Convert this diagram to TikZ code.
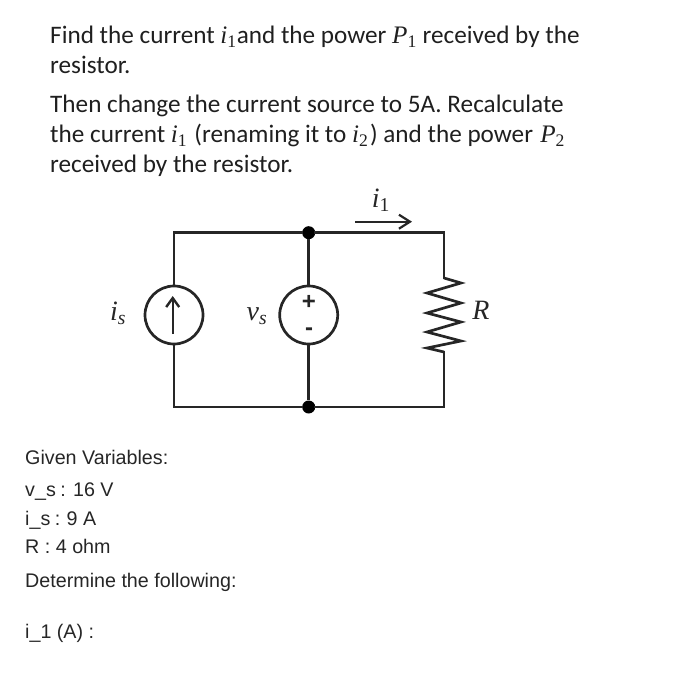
\documentclass[tikz,border=0pt]{standalone}
\usepackage{amsmath}
\usepackage{fontspec}
\setmainfont{Carlito}
\newfontfamily\givenfont{Liberation Sans}
\newfontfamily\symbfont[NFSSFamily=symbf]{Liberation Serif}
\DeclareMathAlphabet{\mathsb}{TU}{symbf}{m}{it}
\DeclareMathAlphabet{\mathsn}{TU}{symbf}{m}{n}
\newcommand{\quant}[2]{\mathsb{#1}_{\mathsn{#2}}}
\usetikzlibrary{arrows.meta,positioning}
\tikzset{
  wire/.style={line width=2.7pt,draw=black!85},
  source/.style={circle,draw=black!85,line width=2.7pt,minimum size=58pt,inner sep=0pt},
  junction/.style={circle,fill=black,minimum size=13pt,inner sep=0pt},
  question/.style={anchor=base west,inner sep=0pt,text=black!88,font=\fontsize{25.2}{30}\selectfont},
  given/.style={anchor=base west,inner sep=0pt,text=black!85,font=\givenfont\fontsize{19.7}{24}\selectfont},
  symbol/.style={inner sep=0pt,text=black!85,font=\fontsize{28}{34}\selectfont},
  polarity/.style={inner sep=0pt,text=black!85,font=\givenfont\bfseries\fontsize{24}{26}\selectfont}
}
\begin{document}
\begin{tikzpicture}[x=1pt,y=-1pt,node distance=134.7pt,on grid]
   \useasboundingbox (0,0) rectangle (699,700);
   % text above the circuit
   \node[question] (find) at (50,44) {Find the current $\quant{i}{1}$and the power $\quant{P}{1}$ received by the};
   \node[question] (res)  at (50,74) {resistor.};
   \node[question] (then) at (50,112.5) {Then change the current source to 5A. Recalculate};
   \node[question] (curr) at (50,143) {the current $\quant{i}{1}$\kern1.5pt{} (renaming it to $\quant{i}{2}$\kern1.5pt) and the power \kern1.5pt$\quant{P}{2}$};
   \node[question] (recv) at (50,172.5) {received by the resistor.};
   % sources and corners
   \node[source] (i_s) at (174,315) {};
   \node[source,right=of i_s] (v_s) {};
   \node[junction] (top) at (308.7,232.7) {};
   \node[junction] (bot) at (308.7,407) {};
   \coordinate (tl) at (174,232.7);
   \coordinate (bl) at (174,407);
   \coordinate (tr) at (444,232.7);
   \coordinate (br) at (444,407);
   \coordinate (r_a) at (444,278);
   \coordinate (r_b) at (444,352);
   \path[wire]
    (i_s) edge (tl)
          edge (bl)
    (v_s) edge (top)
          edge (bot);
   \draw[wire,line cap=rect] (tl) -- (top) -- (tr) -- (r_a);
   \draw[wire,line cap=rect] (bl) -- (bot) -- (br) -- (r_b);
   % resistor
   \draw[wire,line join=miter] (r_a) -- ++(17,5) -- ++(-34,10) -- ++(34,10)
      -- ++(-34,10) -- ++(34,9) -- ++(-34,10) -- ++(34,9) -- ++(-34,7) -- (r_b);
   % arrows
   \coordinate (up_a) at (172.7,334);
   \coordinate (up_b) at (172.7,296);
   \draw[line width=2.4pt,draw=black!85,-{Straight Barb[length=9pt,width=13pt]}] (up_a) -- (up_b);
   \coordinate (cur_a) at (355,221.7);
   \coordinate (cur_b) at (412,221.7);
   \draw[line width=2.2pt,draw=black!85,-{Straight Barb[length=11pt,width=14pt]}] (cur_a) -- (cur_b);
   % labels
   \node[symbol] (l_i1) at (381,200) {$\quant{i}{1}$};
   \node[symbol] (l_is) at (118,313) {$\quant{i}{\mathsb{s}}$};
   \node[symbol] (l_vs) at (257,316) {$\quant{v}{\mathsb{s}}$};
   \node[symbol] (l_r)  at (481,310) {$\mathsb{R}$};
   \node[polarity] (plus)  at (309,302.5) {+};
   \node[polarity] (minus) at (309,332) {-};
   % text below the circuit
   \node[given] (g_0) at (25,464) {Given Variables:};
   \node[given] (g_1) at (25,496) {v\_s\kern-1pt{} : 16 V};
   \node[given] (g_2) at (25,525) {i\_s\kern-1pt{} :\kern-1pt{} 9 A};
   \node[given] (g_3) at (25,553) {R : 4 ohm};
   \node[given] (g_4) at (25,587) {Determine the following:};
   \node[given] (g_5) at (25,638) {i\_1 (A) :};
\end{tikzpicture}
\end{document}
